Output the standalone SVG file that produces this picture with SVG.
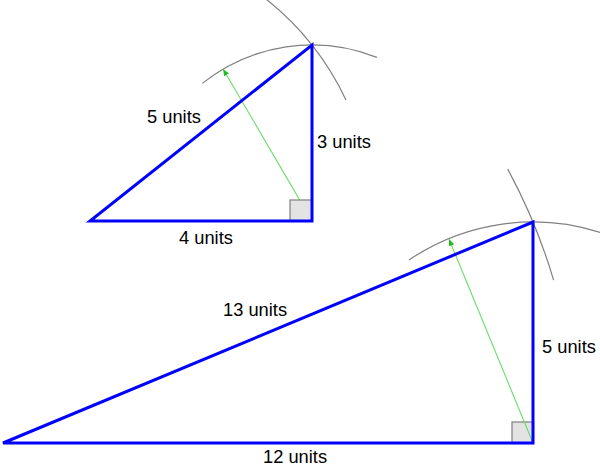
<svg xmlns="http://www.w3.org/2000/svg" width="600" height="467" viewBox="0 0 600 467">
<defs>
<style>
.arc{fill:none;stroke:#808080;stroke-width:1.2}
.tri{fill:none;stroke:#0000ff;stroke-width:3;stroke-linejoin:miter}
.ray{stroke:#66dd66;stroke-width:1.1;fill:none;marker-end:url(#ah)}
.sq{fill:#e3e3e3;stroke:#888888;stroke-width:1.3}
text{font-family:"Liberation Sans",Arial,sans-serif;font-size:18.3px;fill:#000}
</style>
<marker id="ah" viewBox="0 0 10 10" refX="9" refY="5" markerWidth="7" markerHeight="7" markerUnits="userSpaceOnUse" orient="auto">
<path d="M0,1 L10,5 L0,9 z" fill="#22bb22"/>
</marker>
</defs>
<rect width="600" height="467" fill="#ffffff"/>
<g id="small-triangle">
<path class="arc" d="M202.3,83.4 A176,176 0 0 1 376.9,57.4"/>
<path class="arc" d="M266,-1 A283.3,283.3 0 0 1 346,100"/>
<line class="ray" x1="312" y1="221" x2="223.4" y2="69.5"/>
<rect class="sq" x="290" y="200" width="22" height="21"/>
<polygon class="tri" points="90,221 312,221 312,45"/>
<text x="147" y="123">5 units</text>
<text x="317" y="148">3 units</text>
<text x="179" y="244">4 units</text>
</g>
<g id="large-triangle">
<path class="arc" d="M409,260 A221,221 0 0 1 602,233"/>
<path class="arc" d="M507.7,169.1 A574.2,574.2 0 0 1 553.6,280.1"/>
<rect class="sq" x="512" y="422" width="21.5" height="21.5"/>
<line class="ray" x1="533" y1="443" x2="449.2" y2="239.6"/>
<polygon class="tri" points="3,443 533,443 533,222"/>
<text x="223" y="316">13 units</text>
<text x="542" y="353">5 units</text>
<text x="263" y="463">12 units</text>
</g>
</svg>
